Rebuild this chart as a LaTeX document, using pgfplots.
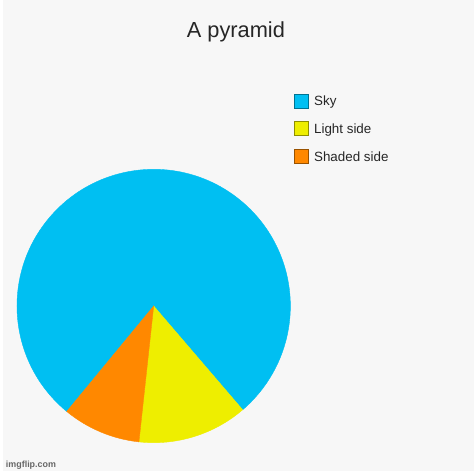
\documentclass[border=0pt]{standalone}
\usepackage{fontspec}
\setmainfont{Liberation Sans}
\usepackage{pgfplots}
\usepackage{pgfplotstable}
\pgfplotsset{compat=1.18}

\definecolor{bgc}{HTML}{F7F7F7}
\definecolor{skyc}{HTML}{00BFF2}
\definecolor{lightc}{HTML}{EEEE00}
\definecolor{shadec}{HTML}{FF8800}

% pie shares in percent, clockwise from the start angle
\pgfplotstableread{
name value
Sky 77.75
Light 13.0
Shaded 9.25
}\piedata

\begin{document}
\begin{tikzpicture}
\fill[bgc] (0,0) rectangle (474bp,474bp);

\pgfplotstablegetelem{0}{value}\of\piedata \let\vA\pgfplotsretval
\pgfplotstablegetelem{1}{value}\of\piedata \let\vB\pgfplotsretval
\pgfplotstablegetelem{2}{value}\of\piedata \let\vC\pgfplotsretval
\pgfmathsetmacro\aA{230.5}
\pgfmathsetmacro\aB{\aA-3.6*\vA}
\pgfmathsetmacro\aC{\aB-3.6*\vB}
\pgfmathsetmacro\aD{\aC-3.6*\vC}

\begin{axis}[
    at={(0,0)}, anchor=south west,
    width=474bp, height=474bp, scale only axis,
    xmin=0, xmax=474, ymin=0, ymax=474,
    hide axis, clip=false,
]
\def\cx{151.8}\def\cy{166.2}\def\r{137.5bp}
\filldraw[skyc, line width=0.4pt] (axis cs:\cx,\cy) -- ([shift={(\aA:\r)}]axis cs:\cx,\cy)
    arc[start angle=\aA, end angle=\aB, radius=\r] -- cycle;
\filldraw[lightc, line width=0.4pt] (axis cs:\cx,\cy) -- ([shift={(\aB:\r)}]axis cs:\cx,\cy)
    arc[start angle=\aB, end angle=\aC, radius=\r] -- cycle;
\filldraw[shadec, line width=0.4pt] (axis cs:\cx,\cy) -- ([shift={(\aC:\r)}]axis cs:\cx,\cy)
    arc[start angle=\aC, end angle=\aD, radius=\r] -- cycle;

% title
\node[anchor=base, font=\fontsize{22}{26}\selectfont, text=black!85]
    at (axis cs:234.5,436.5) {A pyramid};

% legend
\filldraw[fill=skyc, draw=skyc!60!black, line width=0.6pt]
    (axis cs:293.5,365.5) rectangle (axis cs:307.5,379.5);
\filldraw[fill=lightc, draw=lightc!60!black, line width=0.6pt]
    (axis cs:293.5,337.5) rectangle (axis cs:307.5,351.5);
\filldraw[fill=shadec, draw=shadec!60!black, line width=0.6pt]
    (axis cs:293.5,309.5) rectangle (axis cs:307.5,323.5);
\begin{scope}[every node/.style={anchor=base west, inner sep=0pt,
    font=\fontsize{13.5}{16}\selectfont, text=black!85}]
\node at (axis cs:313,367.5) {Sky};
\node at (axis cs:313,339.5) {Light side};
\node at (axis cs:313,311.5) {Shaded side};
\end{scope}

% watermark
\node[anchor=base west, inner sep=0pt, font=\fontsize{9}{10}\selectfont\bfseries,
    text=black!60] at (axis cs:3,3.5) {imgflip.com};
\end{axis}
\end{tikzpicture}
\end{document}
